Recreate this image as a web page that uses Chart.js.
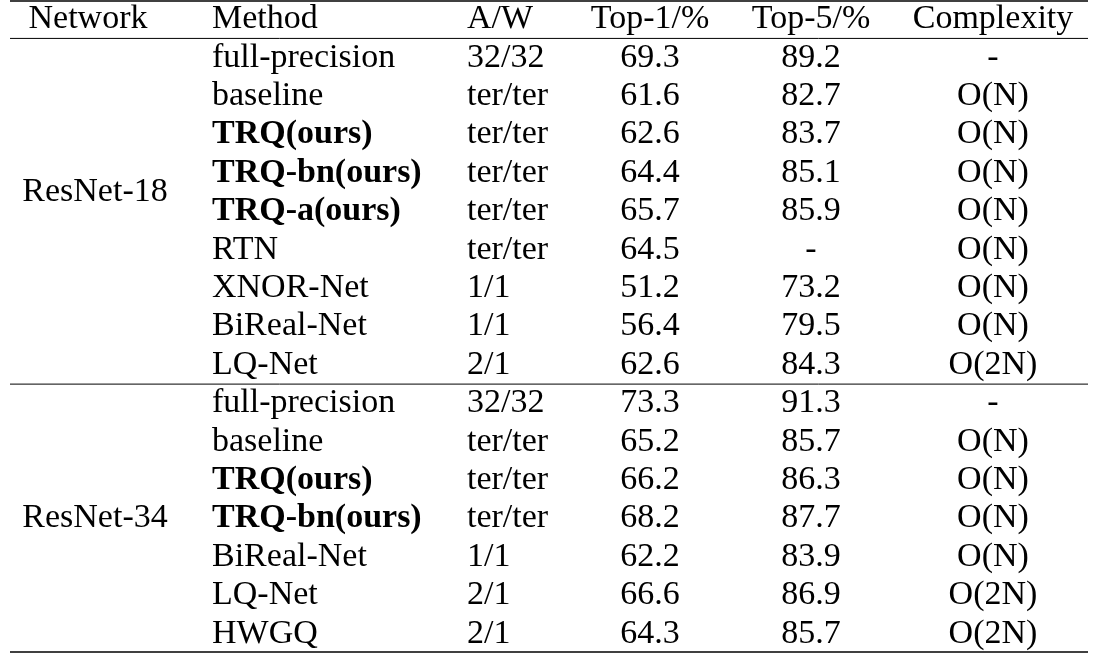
<!DOCTYPE html>
<html><head><meta charset="utf-8">
<script src="https://cdn.jsdelivr.net/npm/chart.js@4"></script>
<style>html,body{margin:0;padding:0;background:#fff}#wrap{width:1100px;height:655px}</style>
</head><body><div id="wrap"><canvas id="c"></canvas></div>
<script>
const headers = ["Network","Method","A/W","Top-1/%","Top-5/%","Complexity"];
const networks = ["ResNet-18","ResNet-34"];
const groupSizes = [9,7];
const methods = ["full-precision","baseline","TRQ(ours)","TRQ-bn(ours)","TRQ-a(ours)","RTN","XNOR-Net","BiReal-Net","LQ-Net",
                 "full-precision","baseline","TRQ(ours)","TRQ-bn(ours)","BiReal-Net","LQ-Net","HWGQ"];
const boldMethod = [false,false,true,true,true,false,false,false,false,false,false,true,true,false,false,false];
const bits = ["32/32","ter/ter","ter/ter","ter/ter","ter/ter","ter/ter","1/1","1/1","2/1",
              "32/32","ter/ter","ter/ter","ter/ter","1/1","2/1","2/1"];
const top1 = [69.3,61.6,62.6,64.4,65.7,64.5,51.2,56.4,62.6,73.3,65.2,66.2,68.2,62.2,66.6,64.3];
const top5 = [89.2,82.7,83.7,85.1,85.9,null,73.2,79.5,84.3,91.3,85.7,86.3,87.7,83.9,86.9,85.7];
const complexity = ["-","O(N)","O(N)","O(N)","O(N)","O(N)","O(N)","O(N)","O(2N)",
                    "-","O(N)","O(N)","O(N)","O(N)","O(2N)","O(2N)"];

const rowLabels = ["header"].concat(methods.map((m,i)=>"r"+i));
const FONT = '"Liberation Serif", "Times New Roman", serif';

const tablePlugin = {
  id:'table',
  afterDraw(chart){
    const ctx = chart.ctx, y = chart.scales.y;
    const band = Math.abs(y.getPixelForValue(1)-y.getPixelForValue(0));
    const py = i => y.getPixelForValue(i+1);
    ctx.save();
    ctx.fillStyle = '#000';
    ctx.textBaseline = 'middle';
    const put = (t,x,yy,align,bold)=>{ctx.font=(bold?'bold ':'')+'34px '+FONT;ctx.textAlign=align;ctx.fillText(t,x,yy);};
    const hy = y.getPixelForValue(0);
    put(headers[0],88,hy,'center'); put(headers[1],212,hy,'left'); put(headers[2],467,hy,'left');
    put(headers[3],650,hy,'center'); put(headers[4],811,hy,'center'); put(headers[5],993,hy,'center');
    methods.forEach((m,i)=>{
      const yy = py(i);
      put(m,212,yy,'left',boldMethod[i]);
      put(bits[i],467,yy,'left');
      put(top1[i]==null?'-':top1[i].toFixed(1),650,yy,'center');
      put(top5[i]==null?'-':top5[i].toFixed(1),811,yy,'center');
      put(complexity[i],993,yy,'center');
    });
    put(networks[0],95,(py(3)+py(4))/2,'center');
    put(networks[1],95,py(groupSizes[0]+3),'center');
    ctx.strokeStyle='#000';
    const line=(yy,w)=>{ctx.lineWidth=w;ctx.beginPath();ctx.moveTo(10,yy);ctx.lineTo(1088,yy);ctx.stroke();};
    line(hy-band/2+1,1.5);
    line(hy+band/2,1);
    line(py(groupSizes[0]-1)+band/2,1);
    line(py(methods.length-1)+band/2-1,1.5);
    ctx.restore();
  }
};

new Chart(document.getElementById('c'),{
  type:'bar',
  data:{labels:rowLabels,datasets:[{data:rowLabels.map(()=>null)}]},
  options:{
    indexAxis:'y',responsive:true,maintainAspectRatio:false,animation:false,
    layout:{padding:{top:0,bottom:2,left:0,right:0}},
    plugins:{legend:{display:false},tooltip:{enabled:false}},
    scales:{y:{display:false,offset:true},x:{display:false}}
  },
  plugins:[tablePlugin]
});
</script></body></html>
